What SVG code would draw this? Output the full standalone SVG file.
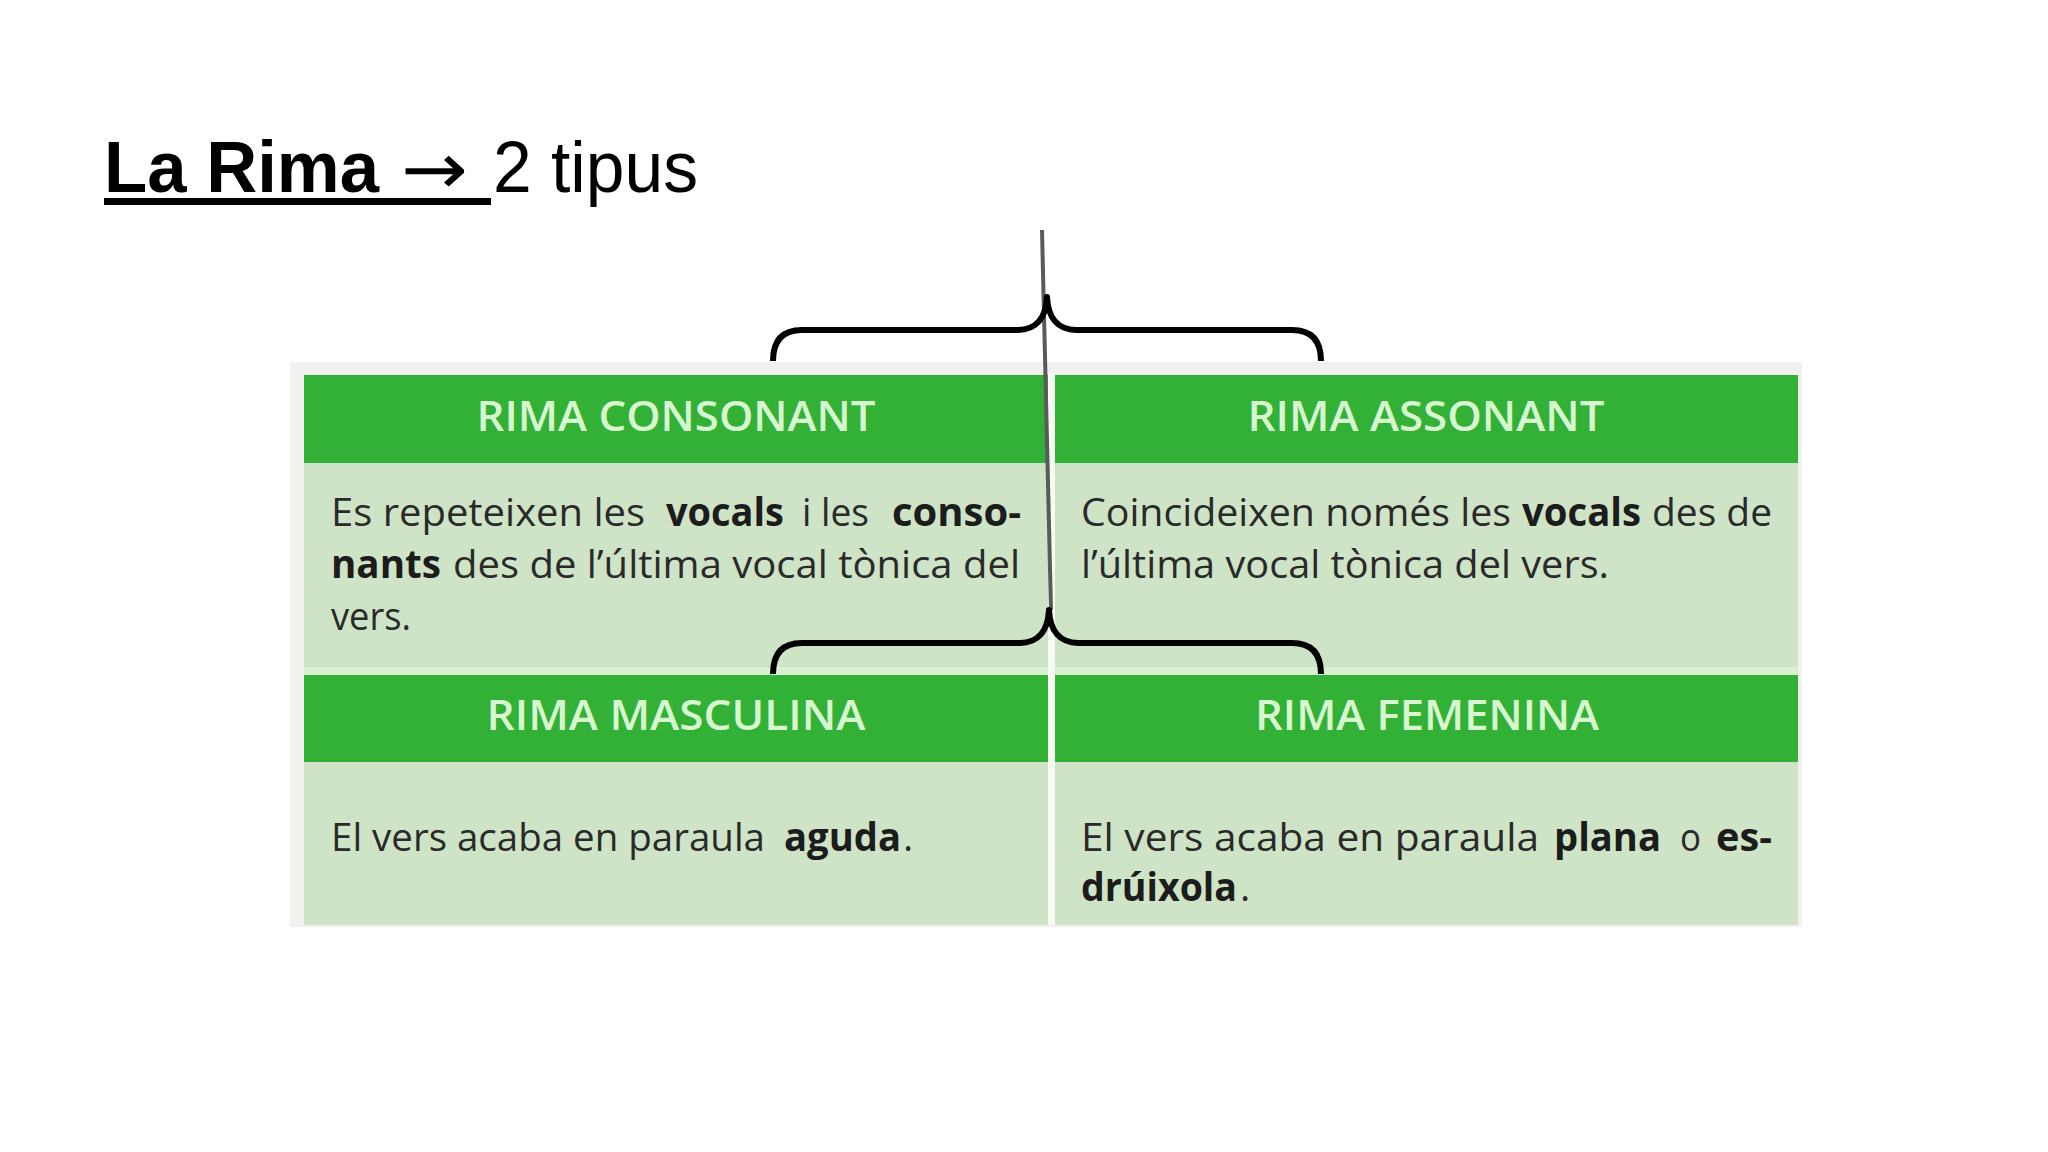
<svg xmlns="http://www.w3.org/2000/svg" width="2048" height="1152" viewBox="0 0 2048 1152">
  <style>
    .title { font-family: "Liberation Sans", Arial, sans-serif; font-size: 72px; fill: #000; }
    .arrow { font-family: "DejaVu Sans", "Liberation Sans", sans-serif; font-size: 72px; fill: #000; }
    .hdr { fill: #33b036; }
    .body { fill: #cfe4c6; }
    .hdrtxt { font-family: "Open Sans", "Noto Sans", sans-serif; font-size: 42px; font-weight: 600; fill: #d6f7cf; text-anchor: middle; }
    .txt { font-family: "Open Sans", "Noto Sans", sans-serif; font-size: 39px; fill: #2a2a2a; }
    .b { font-weight: 700; fill: #1c1c1c; }
    .brace { fill: none; stroke: #000; stroke-width: 6; stroke-linecap: butt; stroke-linejoin: round; }
    .stem { stroke: #5a5a5a; stroke-width: 4; }
  </style>
  <rect width="2048" height="1152" fill="#ffffff"/>

  <g id="title">
    <text class="title" x="104" y="192" font-weight="700" textLength="275" lengthAdjust="spacingAndGlyphs">La Rima</text>
    <text class="arrow" x="401" y="194" textLength="67" lengthAdjust="spacingAndGlyphs">→</text>
    <rect x="104" y="198" width="387" height="7" fill="#000"/>
    <text class="title" x="493" y="192" textLength="205" lengthAdjust="spacingAndGlyphs">2 tipus</text>
  </g>

  <g id="table-frame">
    <rect x="290" y="362" width="1512" height="565" fill="#f1f2ef"/>
    <rect x="1048" y="373" width="7" height="552" fill="#f6fbf3"/>
  </g>

  <g id="rima-consonant">
    <rect class="hdr" x="304" y="375" width="744" height="88"/>
    <rect class="body" x="304" y="463" width="744" height="211"/>
    <text class="hdrtxt" x="676" y="431" textLength="399" lengthAdjust="spacingAndGlyphs">RIMA CONSONANT</text>
    <text class="txt" x="331" y="526" textLength="314" lengthAdjust="spacingAndGlyphs">Es repeteixen les</text>
    <text class="txt b" x="666" y="526" textLength="118" lengthAdjust="spacingAndGlyphs">vocals</text>
    <text class="txt" x="802" y="526" textLength="67" lengthAdjust="spacingAndGlyphs">i les</text>
    <text class="txt b" x="892" y="526" textLength="129" lengthAdjust="spacingAndGlyphs">conso-</text>
    <text class="txt b" x="331" y="578" textLength="110" lengthAdjust="spacingAndGlyphs">nants</text>
    <text class="txt" x="453" y="578" textLength="567" lengthAdjust="spacingAndGlyphs">des de l’última vocal tònica del</text>
    <text class="txt" x="331" y="630" textLength="80" lengthAdjust="spacingAndGlyphs">vers.</text>
  </g>

  <g id="rima-assonant">
    <rect class="hdr" x="1055" y="375" width="743" height="88"/>
    <rect class="body" x="1055" y="463" width="743" height="211"/>
    <text class="hdrtxt" x="1426" y="431" textLength="357" lengthAdjust="spacingAndGlyphs">RIMA ASSONANT</text>
    <text class="txt" x="1081" y="526" textLength="430" lengthAdjust="spacingAndGlyphs">Coincideixen només les</text>
    <text class="txt b" x="1522" y="526" textLength="119" lengthAdjust="spacingAndGlyphs">vocals</text>
    <text class="txt" x="1652" y="526" textLength="120" lengthAdjust="spacingAndGlyphs">des de</text>
    <text class="txt" x="1081" y="578" textLength="528" lengthAdjust="spacingAndGlyphs">l’última vocal tònica del vers.</text>
  </g>

  <g id="rima-masculina">
    <rect x="304" y="667" width="744" height="8" fill="#d9f0d1"/>
    <rect class="hdr" x="304" y="675" width="744" height="87"/>
    <rect class="body" x="304" y="762" width="744" height="163"/>
    <text class="hdrtxt" x="676" y="730" textLength="379" lengthAdjust="spacingAndGlyphs">RIMA MASCULINA</text>
    <text class="txt" x="331" y="851" textLength="434" lengthAdjust="spacingAndGlyphs">El vers acaba en paraula</text>
    <text class="txt b" x="784" y="851" textLength="117" lengthAdjust="spacingAndGlyphs">aguda</text>
    <text class="txt" x="903" y="851">.</text>
  </g>

  <g id="rima-femenina">
    <rect x="1055" y="667" width="743" height="8" fill="#d9f0d1"/>
    <rect class="hdr" x="1055" y="675" width="743" height="87"/>
    <rect class="body" x="1055" y="762" width="743" height="163"/>
    <text class="hdrtxt" x="1427" y="730" textLength="344" lengthAdjust="spacingAndGlyphs">RIMA FEMENINA</text>
    <text class="txt" x="1081" y="851" textLength="458" lengthAdjust="spacingAndGlyphs">El vers acaba en paraula</text>
    <text class="txt b" x="1554" y="851" textLength="107" lengthAdjust="spacingAndGlyphs">plana</text>
    <text class="txt" x="1680" y="851" textLength="21" lengthAdjust="spacingAndGlyphs">o</text>
    <text class="txt b" x="1716" y="851" textLength="56" lengthAdjust="spacingAndGlyphs">es-</text>
    <text class="txt b" x="1081" y="901" textLength="156" lengthAdjust="spacingAndGlyphs">drúixola</text>
    <text class="txt" x="1240" y="901">.</text>
  </g>

  <g id="connectors">
    <line class="stem" x1="1042" y1="230" x2="1051" y2="610"/>
    <path class="brace" d="M 773 361 C 773 341 782 330 802 330 L 1018 330 C 1036 330 1046 318 1047 297 C 1048 318 1058 330 1076 330 L 1292 330 C 1312 330 1321 341 1321 361"/>
    <path class="brace" d="M 773 674 C 773 654 782 643 802 643 L 1020 643 C 1038 643 1048 631 1049 610 C 1050 631 1060 643 1078 643 L 1292 643 C 1312 643 1321 654 1321 674"/>
  </g>
</svg>
